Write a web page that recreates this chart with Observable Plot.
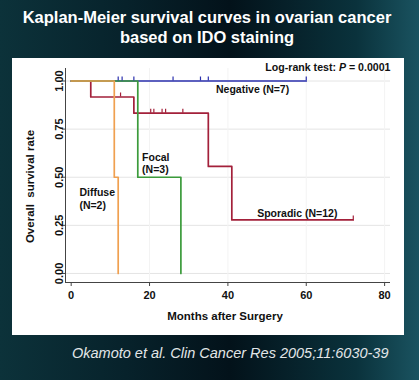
<!DOCTYPE html>
<html>
<head>
<meta charset="utf-8">
<script src="https://cdn.jsdelivr.net/npm/d3@7"></script>
<script src="https://cdn.jsdelivr.net/npm/@observablehq/plot@0.6"></script>
<style>
  html, body { margin: 0; padding: 0; }
  body {
    width: 419px; height: 380px; overflow: hidden; position: relative;
    background: linear-gradient(90deg, #0c323a 0%, #07222b 30%, #03121a 55%, #0a323c 85%, #1a5360 100%);
    font-family: "Liberation Sans", Arial, sans-serif;
  }
  #title {
    position: absolute; left: 0; top: 6.5px; width: 414px; text-align: center;
    color: #ffffff; font-weight: bold; font-size: 16.5px; line-height: 20px;
  }
  #chart { position: absolute; left: 12px; top: 58px; width: 392px; height: 277px; background: #fff; }
  #caption {
    position: absolute; left: 72px; top: 344px; color: #e2e6e8;
    font-style: italic; font-size: 14.5px; line-height: 18px; white-space: nowrap;
  }
</style>
</head>
<body>
<div id="title">Kaplan-Meier survival curves in ovarian cancer<br>based on IDO staining</div>
<div id="chart"></div>
<div id="caption">Okamoto et al. Clin Cancer Res 2005;11:6030-39</div>
<script>
// ---- data ----
const groups = ["Sporadic (N=12)", "Negative (N=7)", "Focal (N=3)", "Diffuse (N=2)"];
const groupColors = ["#a3203a", "#2b30ae", "#3b9b3b", "#f0a050"];

const sporadicTime = [0, 5, 16, 35, 41, 72];
const sporadicSurv = [1, 0.917, 0.833, 0.556, 0.278, 0.278];
const negativeTime = [0, 60];
const negativeSurv = [1, 1];
const focalTime = [0, 17, 28];
const focalSurv = [1, 0.5, 0];
const diffuseTime = [0, 11, 12];
const diffuseSurv = [1, 0.5, 0];

const sporadicCensor = [12.6, 20.3, 21.1, 23.2, 24.1, 28.5, 72];
const negativeCensor = [12, 13, 16, 26, 33, 35, 60];

const xTicks = [0, 20, 40, 60, 80];
const yTicks = [0, 0.25, 0.5, 0.75, 1];
const xDomain = [-1.45, 81.5];
const yDomain = [-0.047, 1.065];

const xLabel = "Months after Surgery";
const yLabel = "Overall  survival rate";
const logRankText = "Log-rank test: P = 0.0001";

const centerLabelTexts = ["Negative (N=7)", "Sporadic (N=12)"];
const centerLabelX = [46.3, 57.7];
const centerLabelY = [0.956, 0.313];
const leftLabelTexts = ["Focal\n(N=3)", "Diffuse\n(N=2)"];
const leftLabelX = [18.1, 2.1];
const leftLabelY = [0.574, 0.39];

// ---- tables ----
const series = [
  [groups[0], sporadicTime, sporadicSurv],
  [groups[1], negativeTime, negativeSurv],
  [groups[2], focalTime, focalSurv],
  [groups[3], diffuseTime, diffuseSurv]
];
const rows = series.flatMap(([g, T, S]) => T.map((t, i) => ({group: g, t, s: S[i]})));

function survAt(T, S, t) {
  let v = S[0];
  for (let i = 0; i < T.length; i++) if (T[i] <= t) v = S[i];
  return v;
}
const censorRows = [
  ...sporadicCensor.map(t => ({group: groups[0], t, s: survAt(sporadicTime, sporadicSurv, t)})),
  ...negativeCensor.map(t => ({group: groups[1], t, s: survAt(negativeTime, negativeSurv, t)}))
];
const centerLabels = centerLabelTexts.map((text, i) => ({text, x: centerLabelX[i], y: centerLabelY[i]}));
const leftLabels = leftLabelTexts.map((text, i) => ({text, x: leftLabelX[i], y: leftLabelY[i]}));

const chart = Plot.plot({
  width: 392, height: 277,
  marginLeft: 53, marginRight: 14, marginTop: 10, marginBottom: 53,
  x: {domain: xDomain},
  y: {domain: yDomain},
  color: {domain: groups, range: groupColors},
  style: {fontFamily: "'Liberation Sans', Arial, sans-serif", fontSize: "11px", fontWeight: "bold", color: "#111", background: "#fff", overflow: "visible"},
  marks: [
    Plot.gridY(yTicks, {stroke: "#e4e4e4", strokeOpacity: 1}),
    Plot.gridX(xTicks.slice(1), {stroke: "#f3f3f3", strokeOpacity: 1}),
    Plot.ruleX([xDomain[0]], {stroke: "#444"}),
    Plot.ruleY([yDomain[0]], {stroke: "#444"}),
    Plot.axisX(xTicks, {tickSize: 4, tickPadding: 5, label: null, stroke: "#444"}),
    Plot.axisY(yTicks, {tickSize: 3, tickFormat: () => "", label: null, stroke: "#444"}),
    Plot.text(yTicks, {x: xDomain[0], y: d => d, text: d => d.toFixed(2), rotate: -90, dx: -6.5}),
    Plot.text([xLabel], {frameAnchor: "bottom", dy: 37, dx: -3, fontSize: 11.5}),
    Plot.text([yLabel], {frameAnchor: "left", textAnchor: "middle", rotate: -90, dx: -35, dy: 11, fontSize: 11.5}),
    Plot.line(rows, {x: "t", y: "s", z: "group", stroke: "group", curve: "step-after", strokeWidth: 1.7}),
    Plot.ruleX(censorRows, {x: "t", y1: "s", y2: "s", stroke: "group", strokeWidth: 1.2, insetTop: -4}),
    Plot.text(centerLabels, {x: "x", y: "y", text: "text", textAnchor: "middle", fontSize: 10.5, fill: "#111"}),
    Plot.text(leftLabels, {x: "x", y: "y", text: "text", textAnchor: "start", fontSize: 10.5, lineHeight: 1.2, fill: "#111"}),
    Plot.text([logRankText], {x: xDomain[1], y: 1.07, textAnchor: "end", fontSize: 10.6, fill: "#111"})
  ]
});
document.getElementById("chart").appendChild(chart);

// italic P in the log-rank annotation
d3.select(chart).selectAll("text").filter(function() { return this.textContent === logRankText; })
  .each(function() {
    const t = d3.select(this);
    t.text(null);
    t.append("tspan").text("Log-rank test: ");
    t.append("tspan").attr("font-style", "italic").text("P");
    t.append("tspan").text(" = 0.0001");
  });
</script>
</body>
</html>
